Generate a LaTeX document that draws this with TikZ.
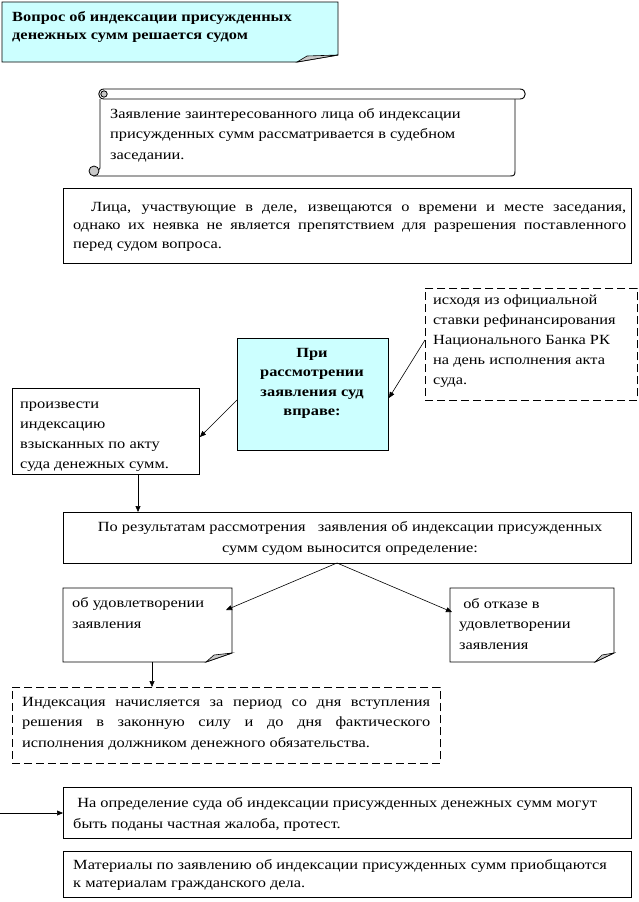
\documentclass[tikz,border=0pt]{standalone}
\usepackage{fontspec}
\setmainfont[FakeStretch=1.17]{Liberation Serif}
\usetikzlibrary{arrows.meta}
\definecolor{lcyan}{HTML}{CCFFFF}
\definecolor{fold}{HTML}{C8C8C8}
\tikzset{
  box/.style={draw,line width=0.9pt,inner sep=0pt},
  txt/.style={align=left,anchor=north west,inner sep=0pt,font=\fontsize{14}{20.5}\selectfont},
  jtxt/.style={align=justify,anchor=north west,inner sep=0pt,font=\fontsize{14}{20.5}\selectfont},
  arr/.style={-{Triangle[length=6pt,width=5pt]},line width=0.6pt},
  dsh/.style={dashed,dash pattern=on 8pt off 4pt,line width=0.8pt}
}
\begin{document}
\begin{tikzpicture}[x=1pt,y=-1pt]
\useasboundingbox[fill=white] (0,0) rectangle (639,902);

% top box with fold
\draw[fill=lcyan,line width=0.9pt] (2,2) -- (338,2) -- (338,55) -- (297,62) -- (2,62) -- cycle;
\draw[fill=fold,line width=0.6pt] (297,62) -- (307,56) -- (338,55) -- cycle;
\node[txt,font=\fontsize{14}{18.5}\selectfont\bfseries] (t1) at (12,11) {Вопрос об индексации присужденных\\денежных сумм решается судом};

% scroll
\draw[line width=0.9pt,fill=white] (100,99) -- (100,168) -- (94,176) -- (510,176) .. controls (514,176) and (515,175) .. (515,171) -- (515,99);
\draw[line width=0.9pt,fill=white] (104,89) -- (520,89) .. controls (527,89) and (527,99) .. (520,99) -- (104,99) .. controls (97,99) and (97,89) .. (104,89) -- cycle;
\draw[line width=0.8pt,fill=fold] (94,171) circle (5);
\draw[line width=0.8pt,fill=fold] (104,94) circle (3.2);
\node[txt] (scroll) at (110,108) {Заявление заинтересованного лица об индексации\\присужденных сумм рассматривается в судебном\\заседании.};

% box 3
\node[box,minimum width=568pt,minimum height=75pt,anchor=north west] (b3) at (63,188) {};
\node[jtxt,text width=553pt,font=\fontsize{14}{18.5}\selectfont] (b3t) at (73,202) {\hspace*{18pt}Лица, участвующие в деле, извещаются о времени и месте заседания,\linebreak однако их неявка не является препятствием для разрешения поставленного\linebreak перед судом вопроса.};

% dashed box
\node[draw,dsh,minimum width=212pt,minimum height=112pt,anchor=north west,inner sep=0pt] (d1) at (425,288) {};
\node[txt,font=\fontsize{14}{20}\selectfont] (d1t) at (433,295) {исходя из официальной\\ставки рефинансирования\\Национального Банка РК\\на день исполнения акта\\суда.};

% cyan box
\node[box,fill=lcyan,minimum width=151pt,minimum height=112pt,anchor=north west] (c1) at (237,338) {};
\node[align=center,inner sep=0pt,anchor=north,font=\fontsize{14}{19.5}\selectfont\bfseries] (c1t) at (312,348) {При\\рассмотрении\\заявления суд\\вправе:};

% left box
\node[box,minimum width=187pt,minimum height=86pt,anchor=north west] (l1) at (12,388) {};
\node[txt,font=\fontsize{14}{20}\selectfont] (l1t) at (20,402) {произвести\\индексацию\\взысканных по акту\\суда денежных сумм.};

\draw[arr] (d1.west |- 0,340) -- (c1.east |- 0,398);
\draw[arr] (c1.west |- 0,400) -- (l1.east |- 0,437);

% box 7
\node[box,minimum width=568pt,minimum height=51pt,anchor=north west] (b7) at (63,512) {};
\node[align=center,inner sep=0pt,font=\fontsize{14}{21}\selectfont] (b7t) at (350,538) {По результатам рассмотрения \ \ заявления об индексации присужденных\\сумм судом выносится определение:};
\draw[arr] (l1.south -| 138,0) -- (b7.north -| 138,0);

% doc boxes
\draw[line width=0.9pt,fill=white] (63,588) -- (232,588) -- (232,653) -- (206,662) -- (63,662) -- cycle;
\draw[fill=fold,line width=0.6pt] (206,662) -- (214,655) -- (232,653) -- cycle;
\coordinate (dl) at (226,610);
\node[txt,font=\fontsize{14}{21}\selectfont] (dlt) at (72,597) {об удовлетворении\\заявления};

\draw[line width=0.9pt,fill=white] (450,588) -- (614,588) -- (614,653) -- (595,662) -- (450,662) -- cycle;
\draw[fill=fold,line width=0.6pt] (595,662) -- (602,655) -- (614,653) -- cycle;
\coordinate (dr) at (452,612);
\node[txt] (drt) at (459,598) {\ об отказе в\\удовлетворении\\заявления};

\coordinate (b7b) at (337,563);
\draw[arr] (b7b) -- (dl);
\draw[arr] (b7b) -- (dr);

% dashed box 2
\node[draw,dsh,minimum width=428pt,minimum height=76pt,anchor=north west,inner sep=0pt] (d2) at (12,687) {};
\node[jtxt,text width=408pt] (d2t) at (22,697) {Индексация начисляется за период со дня вступления\linebreak решения в законную силу и до дня фактического\linebreak исполнения должником денежного обязательства.};
\coordinate (dlb) at (152,662);
\draw[arr] (dlb) -- (d2.north -| dlb);

% box 11
\node[box,minimum width=568pt,minimum height=51pt,anchor=north west] (b11) at (63,787) {};
\node[txt,font=\fontsize{14}{21}\selectfont] (b11t) at (73,797) {\ На определение суда об индексации присужденных денежных сумм могут\\быть поданы частная жалоба, протест.};
\coordinate (a0) at (0,813);
\draw[arr] (a0) -- (b11.west |- a0);

% box 12
\node[box,minimum width=568pt,minimum height=46pt,anchor=north west] (b12) at (63,851) {};
\node[txt,font=\fontsize{14}{18.5}\selectfont] (b12t) at (73,859) {Материалы по заявлению об индексации присужденных сумм приобщаются\\к материалам гражданского дела.};
\end{tikzpicture}
\end{document}
